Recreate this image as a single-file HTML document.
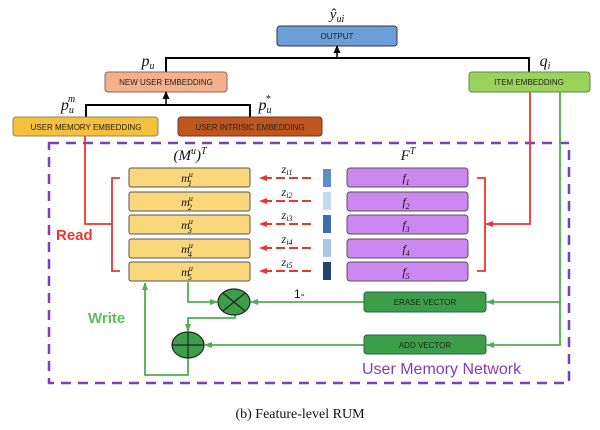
<!DOCTYPE html>
<html><head><meta charset="utf-8"><style>
body{margin:0;background:#fff}
svg{display:block}
.b{font-family:"Liberation Sans",sans-serif;font-size:8px;text-anchor:middle;fill:#222}
.m{font-family:"Liberation Serif",serif;font-style:italic;text-anchor:middle;fill:#111}
</style></head><body>
<svg width="600" height="430" viewBox="0 0 600 430" xmlns="http://www.w3.org/2000/svg">
<defs>
<marker id="ak" markerUnits="userSpaceOnUse" markerWidth="8" markerHeight="8" refX="7" refY="4" orient="auto"><path d="M0,0.5L8,4L0,7.5z" fill="#000"/></marker>
<marker id="ar" markerUnits="userSpaceOnUse" markerWidth="8" markerHeight="8" refX="7" refY="4" orient="auto"><path d="M0,1L8,4L0,7z" fill="#e33"/></marker>
<marker id="ag" markerUnits="userSpaceOnUse" markerWidth="8" markerHeight="8" refX="7" refY="4" orient="auto"><path d="M0,1L8,4L0,7z" fill="#4caf50"/></marker>
</defs>
<!-- top -->
<text class="m" x="337" y="19" font-size="15">ŷ<tspan font-size="10" dy="3">ui</tspan></text>
<rect x="277" y="26" width="120" height="20" rx="3" fill="#6a9fd8" stroke="#335"/>
<text class="b" x="337" y="39">OUTPUT</text>
<path d="M166,72V58H529V72" fill="none" stroke="#000" stroke-width="2"/>
<line x1="337" y1="58" x2="337" y2="46" stroke="#000" stroke-width="1.5" marker-end="url(#ak)"/>
<text class="m" x="148" y="66" font-size="16">p<tspan font-size="10" dy="3">u</tspan></text>
<text class="m" x="545" y="66" font-size="16">q<tspan font-size="10" dy="3">i</tspan></text>
<rect x="105" y="72" width="122" height="20" rx="3" fill="#f4b08a" stroke="#866"/>
<text class="b" x="166" y="85">NEW USER EMBEDDING</text>
<rect x="469" y="72" width="121" height="20" rx="3" fill="#9bd35a" stroke="#585"/>
<text class="b" x="529" y="85">ITEM EMBEDDING</text>
<path d="M86,117V105H250V117" fill="none" stroke="#000" stroke-width="2"/>
<line x1="166" y1="105" x2="166" y2="92" stroke="#000" stroke-width="1.5" marker-end="url(#ak)"/>
<text class="m" x="68" y="110" font-size="16">p<tspan font-size="10" dy="3">u</tspan><tspan font-size="10" dy="-11" dx="-6">m</tspan></text>
<text class="m" x="265" y="110" font-size="16">p<tspan font-size="10" dy="3">u</tspan><tspan font-size="10" dy="-11" dx="-6">*</tspan></text>
<rect x="13" y="117" width="145" height="19" rx="3" fill="#f5c13a" stroke="#886"/>
<text class="b" x="86" y="130">USER MEMORY EMBEDDING</text>
<rect x="178" y="117" width="144" height="19" rx="3" fill="#c0561e" stroke="#733"/>
<text class="b" x="250" y="130">USER INTRISIC EMBEDDING</text>
<!-- dashed box -->
<rect x="49" y="143" width="520" height="240" fill="none" stroke="#7e3fb8" stroke-width="2.5" stroke-dasharray="10,7"/>
<text class="m" x="190" y="160" font-size="15" font-style="normal">(<tspan font-style="italic">M</tspan><tspan font-size="10" dy="-6">u</tspan><tspan dy="6">)</tspan><tspan font-size="10" dy="-6">T</tspan></text>
<text class="m" x="408" y="160" font-size="15">F<tspan font-size="10" dy="-6">T</tspan></text>
<!-- rows -->
<g>
<rect x="129" y="168" width="121" height="19" rx="2" fill="#f9d77a" stroke="#555"/>
<rect x="129" y="192" width="121" height="19" rx="2" fill="#f9d77a" stroke="#555"/>
<rect x="129" y="215" width="121" height="19" rx="2" fill="#f9d77a" stroke="#555"/>
<rect x="129" y="239" width="121" height="19" rx="2" fill="#f9d77a" stroke="#555"/>
<rect x="129" y="262" width="121" height="19" rx="2" fill="#f9d77a" stroke="#555"/>
<rect x="347" y="168" width="121" height="19" rx="3" fill="#cc88f0" stroke="#555"/>
<rect x="347" y="192" width="121" height="19" rx="3" fill="#cc88f0" stroke="#555"/>
<rect x="347" y="215" width="121" height="19" rx="3" fill="#cc88f0" stroke="#555"/>
<rect x="347" y="239" width="121" height="19" rx="3" fill="#cc88f0" stroke="#555"/>
<rect x="347" y="262" width="121" height="19" rx="3" fill="#cc88f0" stroke="#555"/>
<rect x="323" y="169" width="8" height="18" fill="#5b8fcc"/>
<rect x="323" y="192" width="8" height="18" fill="#c6daf0"/>
<rect x="323" y="215" width="8" height="18" fill="#3a6eb0"/>
<rect x="323" y="239" width="8" height="18" fill="#a9c8e8"/>
<rect x="323" y="262" width="8" height="18" fill="#23456e"/>
</g>
<g font-size="12">
<text class="m" x="187" y="182">m<tspan font-size="8" dx="-1" dy="-5">u</tspan><tspan font-size="8" dx="-5" dy="9">1</tspan></text>
<text class="m" x="187" y="206">m<tspan font-size="8" dx="-1" dy="-5">u</tspan><tspan font-size="8" dx="-5" dy="9">2</tspan></text>
<text class="m" x="187" y="229">m<tspan font-size="8" dx="-1" dy="-5">u</tspan><tspan font-size="8" dx="-5" dy="9">3</tspan></text>
<text class="m" x="187" y="253">m<tspan font-size="8" dx="-1" dy="-5">u</tspan><tspan font-size="8" dx="-5" dy="9">4</tspan></text>
<text class="m" x="187" y="276">m<tspan font-size="8" dx="-1" dy="-5">u</tspan><tspan font-size="8" dx="-5" dy="9">5</tspan></text>
<text class="m" x="406" y="182">f<tspan font-size="8" dy="3">1</tspan></text>
<text class="m" x="406" y="206">f<tspan font-size="8" dy="3">2</tspan></text>
<text class="m" x="406" y="229">f<tspan font-size="8" dy="3">3</tspan></text>
<text class="m" x="406" y="253">f<tspan font-size="8" dy="3">4</tspan></text>
<text class="m" x="406" y="276">f<tspan font-size="8" dy="3">5</tspan></text>
<text class="m" x="287" y="173">z<tspan font-size="8" dy="2">i1</tspan></text>
<text class="m" x="287" y="196">z<tspan font-size="8" dy="2">i2</tspan></text>
<text class="m" x="287" y="219">z<tspan font-size="8" dy="2">i3</tspan></text>
<text class="m" x="287" y="243">z<tspan font-size="8" dy="2">i4</tspan></text>
<text class="m" x="287" y="266">z<tspan font-size="8" dy="2">i5</tspan></text>
</g>
<g stroke="#e33" stroke-width="2" stroke-dasharray="9,4" fill="none">
<line x1="311" y1="178" x2="260" y2="178" marker-end="url(#ar)"/>
<line x1="311" y1="201" x2="260" y2="201" marker-end="url(#ar)"/>
<line x1="311" y1="224" x2="260" y2="224" marker-end="url(#ar)"/>
<line x1="311" y1="248" x2="260" y2="248" marker-end="url(#ar)"/>
<line x1="311" y1="271" x2="260" y2="271" marker-end="url(#ar)"/>
</g>
<!-- read -->
<g stroke="#e33" stroke-width="1.8" fill="none">
<path d="M120,178H112V271H120"/>
<path d="M112,224H85V136"/>
<path d="M477,178H485V271H477"/>
<path d="M530,92V224H486" marker-end="url(#ar)"/>
</g>
<text x="56" y="240" font-family="Liberation Sans,sans-serif" font-weight="bold" font-size="15" fill="#e33">Read</text>
<!-- write -->
<g stroke="#4caf50" stroke-width="1.8" fill="none">
<path d="M560,92V345H487" marker-end="url(#ag)"/>
<path d="M560,302H487" marker-end="url(#ag)"/>
<path d="M364,302H251" marker-end="url(#ag)"/>
<path d="M188,282V302H217" marker-end="url(#ag)"/>
<path d="M235,315V318H188V331" marker-end="url(#ag)"/>
<path d="M364,345H205" marker-end="url(#ag)"/>
<path d="M188,358V375H145V283" marker-end="url(#ag)"/>
</g>
<rect x="364" y="292" width="122" height="20" rx="3" fill="#3d9e4a" stroke="#264"/>
<text class="b" x="425" y="305">ERASE VECTOR</text>
<rect x="364" y="335" width="122" height="19" rx="3" fill="#3d9e4a" stroke="#264"/>
<text class="b" x="425" y="348">ADD VECTOR</text>
<ellipse cx="234" cy="302" rx="16" ry="13" fill="#3d9e4a" stroke="#222" stroke-width="1.2"/>
<path d="M223,293L245,311M245,293L223,311" stroke="#222" stroke-width="1.2"/>
<ellipse cx="188" cy="345" rx="16" ry="13" fill="#3d9e4a" stroke="#222" stroke-width="1.2"/>
<path d="M172,345H204M188,332V358" stroke="#222" stroke-width="1.2"/>
<text x="294" y="298" font-family="Liberation Sans,sans-serif" font-size="12" fill="#111">1-</text>
<text x="88" y="323" font-family="Liberation Sans,sans-serif" font-weight="bold" font-size="15" fill="#5cbf5c">Write</text>
<text x="362" y="374" font-family="Liberation Sans,sans-serif" font-size="16" fill="#7e3fb8">User Memory Network</text>
<text x="300" y="418" font-family="Liberation Serif,serif" font-size="14" fill="#111" text-anchor="middle">(b)  Feature-level RUM</text>
</svg>
</body></html>
